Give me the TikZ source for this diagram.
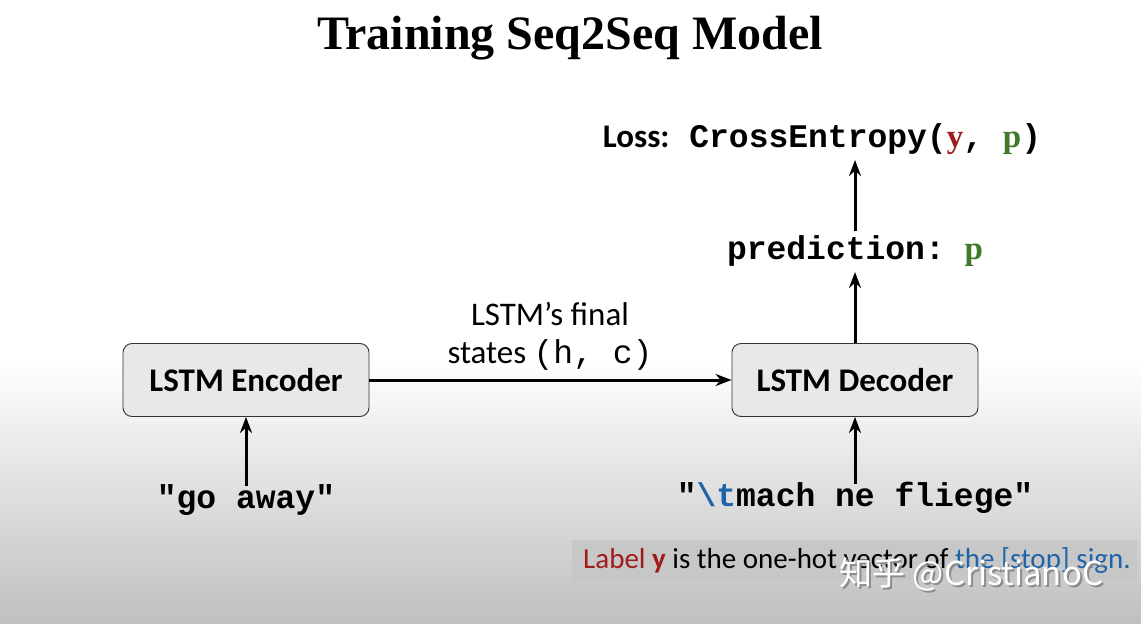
\documentclass[tikz,border=0pt]{standalone}
\usepackage{fontspec}
\setmainfont{Liberation Serif}
\setsansfont{Carlito}
\setmonofont{Liberation Mono}
\newfontfamily\cjkf{Noto Sans CJK SC}
\usetikzlibrary{arrows.meta,shadows}
\definecolor{myred}{HTML}{A01C1C}
\definecolor{mygreen}{HTML}{3F7A2A}
\definecolor{myblue}{HTML}{1F64A8}
\tikzset{
  box/.style={draw=black!80,line width=0.9pt,rounded corners=9pt,fill=black!9,minimum width=246pt,minimum height=73pt,font=\sffamily\bfseries\fontsize{33}{36}\selectfont},
  arr/.style={-{Stealth[length=16pt,width=12pt]},line width=3pt},
  mono/.style={font=\ttfamily\bfseries\fontsize{33}{36}\selectfont,inner sep=0pt},
  sans/.style={font=\sffamily\fontsize{33}{38}\selectfont,inner sep=0pt}
}
\begin{document}
\begin{tikzpicture}[x=1pt,y=-1pt]
\useasboundingbox (0,0) rectangle (1141,624);
\shade[top color=white,bottom color=black!25] (0,360) rectangle (1141,624);
\node[font=\rmfamily\bfseries\fontsize{48}{52}\selectfont] (title) at (570,38) {Training Seq2Seq Model};
\node[box] (enc) at (246,380) {LSTM Encoder};
\node[box] (dec) at (855,380) {LSTM Decoder};
\node[mono] (in1) at (246,500) {"go away"};
\node[mono] (in2) at (855,498) {"{\color{myblue}\textbackslash t}mach ne fliege"};
\node[mono] (pred) at (855,251) {prediction: {\color{mygreen}\rmfamily p}};
\node[mono] (loss) at (822,139) {{\sffamily\bfseries Loss:} CrossEntropy({\color{myred}\rmfamily y}, {\color{mygreen}\rmfamily p})};
\node[sans,align=center] (lab) at (550,336) {LSTM’s final\\[0pt]states {\ttfamily (h, c)}};
\draw[arr] (enc.east) -- (dec.west);
\draw[arr] (246,486) -- (enc.south);
\draw[arr] (855,484) -- (dec.south);
\draw[arr] (dec.north) -- (855,272);
\draw[arr] (855,231) -- (855,160);
\fill[black!22] (572,540) rectangle (1137,581);
\node[sans,anchor=west,font=\sffamily\fontsize{29}{32}\selectfont] (note) at (583,561) {{\color{myred}Label \textbf{y}} is the one-hot vector of {\color{myblue}the [stop] sign.}};
\node[font=\cjkf\fontsize{33}{36}\selectfont,text=black!45,anchor=west] (wms) at (838,576) {知乎 @CristianoC};
\node[font=\cjkf\fontsize{33}{36}\selectfont,text=white,anchor=west] (wm) at (836,574) {知乎 @CristianoC};
\end{tikzpicture}
\end{document}
